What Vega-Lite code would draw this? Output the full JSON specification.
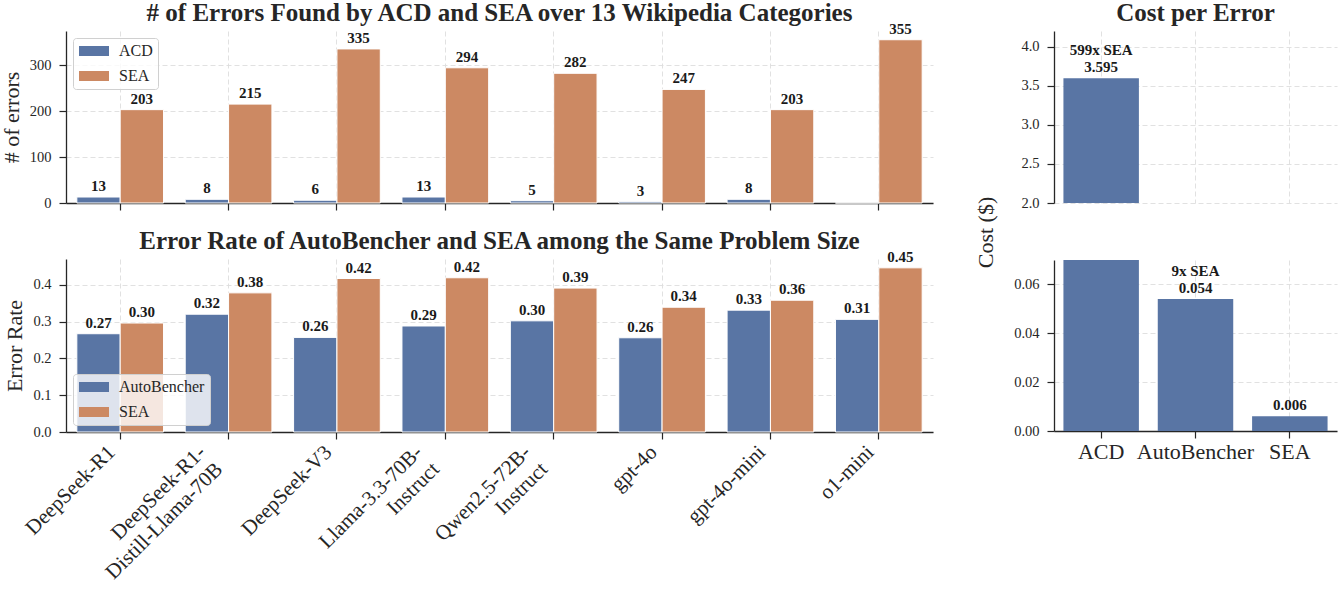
{
  "$schema": "https://vega.github.io/schema/vega-lite/v6.json",
  "padding": {"left": 0, "top": 0, "right": 4, "bottom": 0},
  "spacing": 41,
  "resolve": {"scale": {"color": "independent", "x": "independent", "y": "independent", "xOffset": "independent"}, "legend": {"color": "independent"}},
  "config": {
    "font": "Liberation Serif",
    "view": {"stroke": null},
    "axis": {
      "labelFont": "Liberation Serif", "labelFontSize": 14.5, "labelColor": "#262626",
      "titleFont": "Liberation Serif", "titleFontSize": 22, "titleFontWeight": "normal", "titleColor": "#262626", "titlePadding": 6,
      "domainColor": "#262626", "domainWidth": 1.3, "tickColor": "#262626", "tickWidth": 1.2, "tickSize": 7, "labelPadding": 8,
      "gridColor": "#dedede", "gridDash": [5, 3], "gridWidth": 0.9, "labelOverlap": false
    },
    "title": {"font": "Liberation Serif", "fontSize": 25, "fontWeight": "bold", "color": "#262626", "offset": 4, "frame": "group"},
    "legend": {
      "labelFont": "Liberation Serif", "labelFontSize": 16, "labelColor": "#262626",
      "padding": 5, "offset": 7, "fillColor": "rgba(255,255,255,0.8)", "strokeColor": "#d0d0d0", "cornerRadius": 3,
      "symbolType": "M-1.875,-0.625H1.875V0.625H-1.875Z", "symbolSize": 256, "symbolStrokeWidth": 0,
      "symbolOffset": 8, "labelOffset": 17, "rowPadding": 9, "symbolOpacity": 1
    }
  },
  "datasets": {
    "errors": [
      {"model": "DeepSeek-R1", "method": "ACD", "count": 13},
      {"model": "DeepSeek-R1", "method": "SEA", "count": 203},
      {"model": "DeepSeek-R1-Distill-Llama-70B", "method": "ACD", "count": 8},
      {"model": "DeepSeek-R1-Distill-Llama-70B", "method": "SEA", "count": 215},
      {"model": "DeepSeek-V3", "method": "ACD", "count": 6},
      {"model": "DeepSeek-V3", "method": "SEA", "count": 335},
      {"model": "Llama-3.3-70B-Instruct", "method": "ACD", "count": 13},
      {"model": "Llama-3.3-70B-Instruct", "method": "SEA", "count": 294},
      {"model": "Qwen2.5-72B-Instruct", "method": "ACD", "count": 5},
      {"model": "Qwen2.5-72B-Instruct", "method": "SEA", "count": 282},
      {"model": "gpt-4o", "method": "ACD", "count": 3},
      {"model": "gpt-4o", "method": "SEA", "count": 247},
      {"model": "gpt-4o-mini", "method": "ACD", "count": 8},
      {"model": "gpt-4o-mini", "method": "SEA", "count": 203},
      {"model": "o1-mini", "method": "ACD", "count": 0},
      {"model": "o1-mini", "method": "SEA", "count": 355}
    ],
    "rates": [
      {"model": "DeepSeek-R1", "method": "AutoBencher", "rate": 0.267},
      {"model": "DeepSeek-R1", "method": "SEA", "rate": 0.296},
      {"model": "DeepSeek-R1-Distill-Llama-70B", "method": "AutoBencher", "rate": 0.320},
      {"model": "DeepSeek-R1-Distill-Llama-70B", "method": "SEA", "rate": 0.378},
      {"model": "DeepSeek-V3", "method": "AutoBencher", "rate": 0.257},
      {"model": "DeepSeek-V3", "method": "SEA", "rate": 0.417},
      {"model": "Llama-3.3-70B-Instruct", "method": "AutoBencher", "rate": 0.288},
      {"model": "Llama-3.3-70B-Instruct", "method": "SEA", "rate": 0.419},
      {"model": "Qwen2.5-72B-Instruct", "method": "AutoBencher", "rate": 0.302},
      {"model": "Qwen2.5-72B-Instruct", "method": "SEA", "rate": 0.391},
      {"model": "gpt-4o", "method": "AutoBencher", "rate": 0.256},
      {"model": "gpt-4o", "method": "SEA", "rate": 0.339},
      {"model": "gpt-4o-mini", "method": "AutoBencher", "rate": 0.331},
      {"model": "gpt-4o-mini", "method": "SEA", "rate": 0.358},
      {"model": "o1-mini", "method": "AutoBencher", "rate": 0.306},
      {"model": "o1-mini", "method": "SEA", "rate": 0.446}
    ],
    "cost": [
      {"method": "ACD", "cost": 3.595, "ratio": "599x SEA"},
      {"method": "AutoBencher", "cost": 0.054, "ratio": "9x SEA"},
      {"method": "SEA", "cost": 0.006, "ratio": null}
    ]
  },
  "hconcat": [
    {
      "vconcat": [
        {
          "width": 867, "height": 172,
          "title": {"text": "# of Errors Found by ACD and SEA over 13 Wikipedia Categories", "offset": -4},
          "data": {"name": "errors"},
          "encoding": {
            "x": {"field": "model", "type": "nominal", "sort": null, "scale": {"paddingInner": 0.2, "paddingOuter": 0.1}, "axis": {"title": null, "labels": false, "grid": true}},
            "xOffset": {"field": "method", "type": "nominal", "sort": ["ACD", "SEA"]},
            "y": {"field": "count", "type": "quantitative", "scale": {"domain": [0, 374], "nice": false}, "axis": {"title": "# of errors", "values": [0, 100, 200, 300], "grid": true}}
          },
          "layer": [
            {
              "mark": {"type": "bar", "stroke": "white", "strokeWidth": 1},
              "encoding": {"color": {"field": "method", "type": "nominal", "scale": {"domain": ["ACD", "SEA"], "range": ["#5975a4", "#cc8963"]}, "legend": {"title": null, "orient": "top-left", "symbolType": "M-1.875,-0.625H1.875V0.625H-1.875Z"}}}
            },
            {
              "transform": [{"filter": "datum.count > 0"}],
              "mark": {"type": "text", "baseline": "bottom", "dy": -3, "fontSize": 15, "fontWeight": "bold", "color": "#1a1a1a"},
              "encoding": {"text": {"field": "count", "type": "quantitative"}}
            }
          ]
        },
        {
          "width": 867, "height": 173,
          "title": {"text": "Error Rate of AutoBencher and SEA among the Same Problem Size", "offset": -4},
          "data": {"name": "rates"},
          "encoding": {
            "x": {"field": "model", "type": "nominal", "sort": null, "scale": {"paddingInner": 0.2, "paddingOuter": 0.1},
              "axis": {"title": null, "grid": true, "labelAngle": -45, "labelAlign": "right", "labelBaseline": "top", "labelFontSize": 21, "labelLineHeight": 24,
                "labelExpr": "datum.label == 'DeepSeek-R1-Distill-Llama-70B' ? ['DeepSeek-R1-', 'Distill-Llama-70B'] : (indexof(datum.label, '-Instruct') > 0 ? [replace(datum.label, 'Instruct', ''), 'Instruct'] : datum.label)",
                "labelPadding": 2,
                "labelOffset": {"condition": {"test": "indexof(datum.value, 'Instruct') >= 0 || indexof(datum.value, 'Distill') >= 0", "value": -34}, "value": -16}}},
            "xOffset": {"field": "method", "type": "nominal", "sort": ["AutoBencher", "SEA"]},
            "y": {"field": "rate", "type": "quantitative", "scale": {"domain": [0, 0.47], "nice": false}, "axis": {"title": "Error Rate", "values": [0, 0.1, 0.2, 0.3, 0.4], "format": ".1f", "grid": true}}
          },
          "layer": [
            {
              "mark": {"type": "bar", "stroke": "white", "strokeWidth": 1},
              "encoding": {"color": {"field": "method", "type": "nominal", "scale": {"domain": ["AutoBencher", "SEA"], "range": ["#5975a4", "#cc8963"]}, "legend": {"title": null, "orient": "bottom-left", "symbolType": "M-1.875,-0.625H1.875V0.625H-1.875Z"}}}
            },
            {
              "mark": {"type": "text", "baseline": "bottom", "dy": -3, "fontSize": 15, "fontWeight": "bold", "color": "#1a1a1a"},
              "encoding": {"text": {"field": "rate", "type": "quantitative", "format": ".2f"}}
            }
          ]
        }
      ],
      "spacing": 56,
      "bounds": "flush",
      "resolve": {"scale": {"color": "independent", "x": "independent", "y": "independent", "xOffset": "independent"}, "legend": {"color": "independent"}}
    },
    {
      "vconcat": [
        {
          "width": 283, "height": 172,
          "title": {"text": "Cost per Error", "offset": 5},
          "data": {"name": "cost"},
          "encoding": {
            "x": {"field": "method", "type": "nominal", "sort": null, "scale": {"paddingInner": 0.2, "paddingOuter": 0.1}, "axis": {"title": null, "labels": false, "ticks": false, "domain": false, "grid": true}},
            "y": {"field": "cost", "type": "quantitative", "scale": {"domain": [2.0, 4.2], "nice": false}, "axis": {"title": null, "values": [2, 2.5, 3, 3.5, 4], "format": ".1f", "grid": true}}
          },
          "layer": [
            {"mark": {"type": "bar", "clip": true, "color": "#5975a4"}},
            {
              "transform": [{"filter": "datum.method == 'ACD'"}],
              "mark": {"type": "text", "baseline": "bottom", "dy": -3, "fontSize": 15, "fontWeight": "bold", "color": "#1a1a1a"},
              "encoding": {"text": {"field": "cost", "type": "quantitative", "format": ".3f"}}
            },
            {
              "transform": [{"filter": "datum.method == 'ACD'"}],
              "mark": {"type": "text", "baseline": "bottom", "dy": -20, "fontSize": 15, "fontWeight": "bold", "color": "#1a1a1a"},
              "encoding": {"text": {"field": "ratio", "type": "nominal"}}
            }
          ]
        },
        {
          "width": 283, "height": 171,
          "data": {"name": "cost"},
          "encoding": {
            "x": {"field": "method", "type": "nominal", "sort": null, "scale": {"paddingInner": 0.2, "paddingOuter": 0.1}, "axis": {"title": null, "grid": true, "labelAngle": 0, "labelFontSize": 22, "labelPadding": 3}},
            "y": {"field": "cost", "type": "quantitative", "scale": {"domain": [0, 0.07], "nice": false}, "axis": {"title": "Cost ($)", "values": [0, 0.02, 0.04, 0.06], "format": ".2f", "grid": true, "titleX": -62, "titleY": -28, "titleBaseline": "alphabetic", "titleAlign": "center", "titleAngle": -90}}
          },
          "layer": [
            {"mark": {"type": "bar", "clip": true, "color": "#5975a4"}},
            {
              "transform": [{"filter": "datum.method != 'ACD'"}],
              "mark": {"type": "text", "baseline": "bottom", "dy": -3, "fontSize": 15, "fontWeight": "bold", "color": "#1a1a1a"},
              "encoding": {"text": {"field": "cost", "type": "quantitative", "format": ".3f"}}
            },
            {
              "transform": [{"filter": "datum.method != 'ACD' && datum.ratio != null"}],
              "mark": {"type": "text", "baseline": "bottom", "dy": -20, "fontSize": 15, "fontWeight": "bold", "color": "#1a1a1a"},
              "encoding": {"text": {"field": "ratio", "type": "nominal"}}
            }
          ]
        }
      ],
      "spacing": 57,
      "bounds": "flush",
      "resolve": {"scale": {"color": "independent", "x": "independent", "y": "independent"}}
    }
  ]
}
